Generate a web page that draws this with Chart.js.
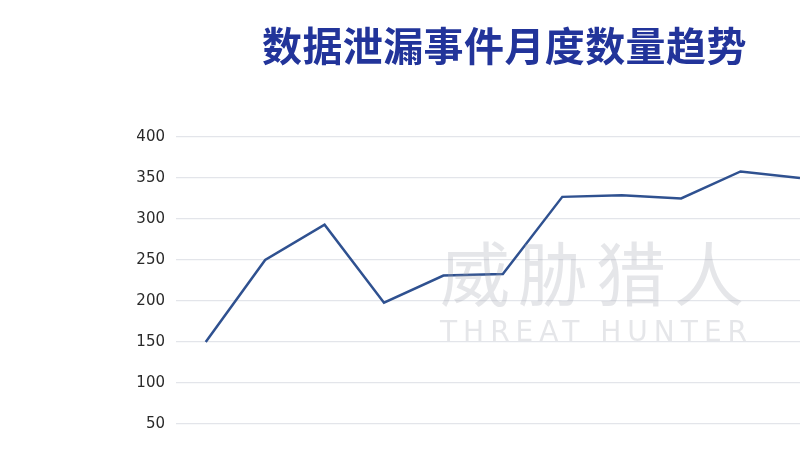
<!DOCTYPE html>
<html>
<head>
<meta charset="utf-8">
<script src="https://cdn.jsdelivr.net/npm/chart.js@4"></script>
<style>
    body { margin: 0; background: #fff; overflow: hidden; }
    #caixa { position: relative; width: 800px; height: 485px; }
    #titulo {
        position: absolute; left: 262px; top: 24px; margin: 0;
        font-family: "Noto Sans CJK SC"; font-weight: bold; font-size: 40px;
        line-height: 1; color: #22349a; white-space: nowrap; letter-spacing: 0.4px;
    }
    .marca { position: absolute; pointer-events: none; white-space: nowrap; line-height: 1; }
    #marca1 { left: 440px; top: 236px; font-family: "Noto Sans CJK SC"; font-size: 70px; color: rgba(160,165,175,0.28); letter-spacing: 8px; }
    #marca2 { left: 440px; top: 318px; font-family: "DejaVu Sans"; font-size: 28px; color: rgba(160,165,175,0.28); letter-spacing: 6px; }
</style>
</head>
<body>
<div id="caixa">
    <canvas id="grafico"></canvas>
    <h1 id="titulo">数据泄漏事件月度数量趋势</h1>
    <div class="marca" id="marca1">威胁猎人</div>
    <div class="marca" id="marca2">THREAT HUNTER</div>
</div>
<script>
// valores mensais (o ultimo ponto fica na borda direita)
const valores = [150, 250, 293, 198, 231, 233, 327, 329, 325, 358, 350];
const ticksY = [50, 100, 150, 200, 250, 300, 350, 400];

const pontos = valores.map((v, i) => ({ x: i, y: v }));

const grafico = document.getElementById('grafico');
new Chart(grafico, {
    type: 'line',
    data: {
        datasets: [{
            data: pontos,
            borderColor: '#2f5190',
            borderWidth: 2.5,
            pointRadius: 0,
            tension: 0,
            fill: false
        }]
    },
    options: {
        responsive: true,
        maintainAspectRatio: false,
        animation: false,
        layout: {
            padding: { top: 137, right: 0, bottom: 11, left: 0 }
        },
        scales: {
            x: {
                type: 'linear',
                min: -0.5,
                max: valores.length - 1,
                display: false
            },
            y: {
                min: 0,
                max: 400,
                afterFit: (escala) => { escala.width = 176 },
                afterBuildTicks: (escala) => {
                    escala.ticks = ticksY.map(v => ({ value: v }))
                },
                border: { display: false },
                grid: {
                    color: '#e3e5ea',
                    lineWidth: 1.2,
                    drawTicks: false
                },
                ticks: {
                    padding: 11,
                    color: '#2a2a2a',
                    font: { family: 'DejaVu Sans', size: 15 }
                }
            }
        },
        plugins: {
            legend: { display: false },
            tooltip: { enabled: false }
        }
    }
});
</script>
</body>
</html>
